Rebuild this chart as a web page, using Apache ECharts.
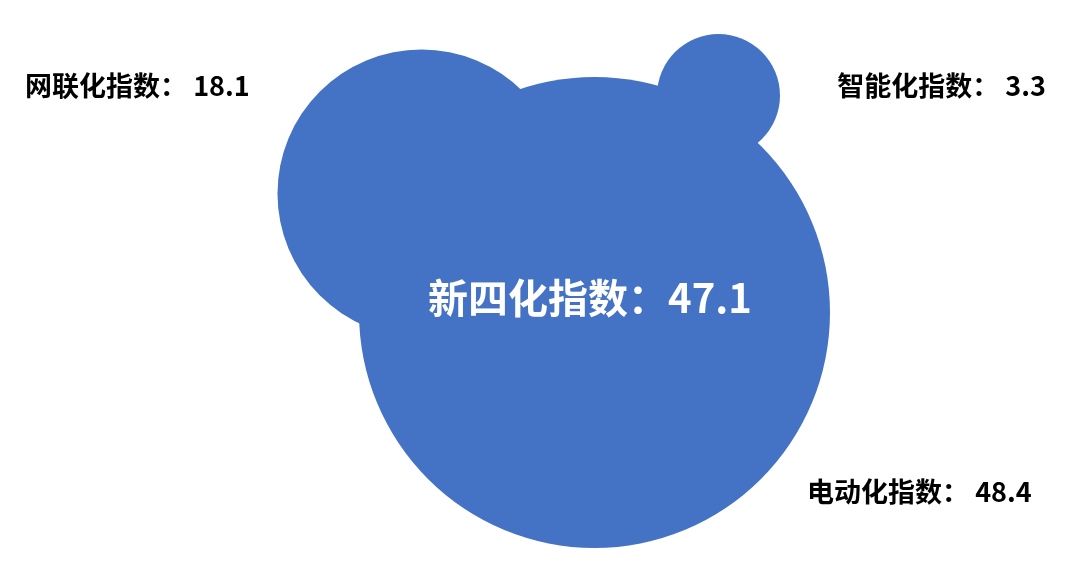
<!DOCTYPE html>
<html>
<head>
<meta charset="utf-8">
<script src="https://cdn.jsdelivr.net/npm/echarts@6/dist/echarts.min.js"></script>
<style>
html,body{margin:0;padding:0;background:#fff;}
#main{width:1080px;height:569px;}
</style>
</head>
<body>
<div id="main"></div>
<script>
// ---- data ----
var categories = ['电动化指数', '网联化指数', '智能化指数'];
var values = [48.4, 18.1, 3.3];
// bubble centres in the chart's own layout units
var xPos = [59.45, 42.15, 71.85];
var yPos = [25.65, 37.55, 47.35];
var totalName = '新四化指数';
var totalValue = 47.1;

var FONT = '"Noto Sans CJK SC", "Microsoft YaHei", sans-serif';
var BLUE = '#4472C4';
var SIZE_K = 67.7; // diameter per sqrt(value)

var chart = echarts.init(document.getElementById('main'));

var seriesData = categories.map(function (c, i) {
  return { name: c, value: [xPos[i], yPos[i], values[i]] };
});

// label placements (layout)
var labelLayout = [
  { x: 807, y: 492, align: 'left' },
  { x: 25, y: 86, align: 'left' },
  { x: 1046, y: 86, align: 'right' }
];

var graphics = categories.map(function (c, i) {
  return {
    type: 'text',
    x: labelLayout[i].x,
    y: labelLayout[i].y,
    style: {
      text: c + '： ' + values[i],
      font: 'bold 27px ' + FONT,
      fill: '#000',
      align: labelLayout[i].align,
      verticalAlign: 'middle'
    }
  };
});
graphics.push({
  type: 'text',
  x: 590,
  y: 298,
  z: 100,
  style: {
    text: totalName + '：' + totalValue,
    font: 'bold 40px ' + FONT,
    fill: '#fff',
    align: 'center',
    verticalAlign: 'middle'
  }
});

chart.setOption({
  animation: false,
  backgroundColor: '#fff',
  grid: { left: 0, right: 0, top: 0, bottom: 0 },
  xAxis: { type: 'value', min: 0, max: 108, show: false },
  yAxis: { type: 'value', min: 0, max: 56.9, show: false },
  series: [{
    type: 'scatter',
    data: seriesData,
    symbolSize: function (v) { return SIZE_K * Math.sqrt(v[2]); },
    itemStyle: { color: BLUE, opacity: 1 },
    label: { show: false }
  }],
  graphic: graphics
});
</script>
</body>
</html>
